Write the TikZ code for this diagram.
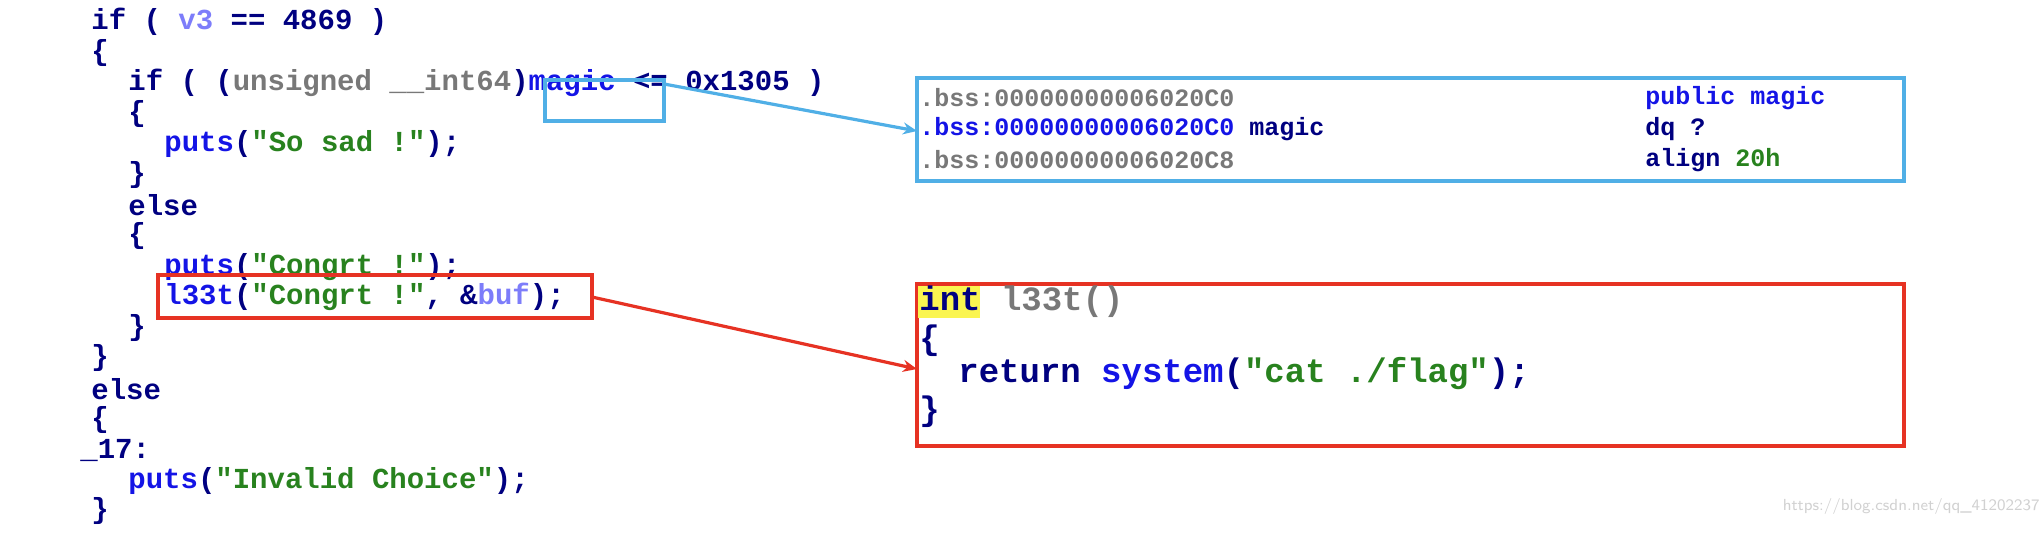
\documentclass[tikz,border=0pt]{standalone}
\usepackage{fontspec}
\usetikzlibrary{arrows.meta}
\setmonofont{Liberation Mono}
\definecolor{kw}{RGB}{0,0,128}
\definecolor{fn}{RGB}{20,20,230}
\definecolor{st}{RGB}{40,130,30}
\definecolor{vr}{RGB}{125,125,250}
\definecolor{gr}{RGB}{120,120,120}
\definecolor{bl}{RGB}{80,175,230}
\definecolor{rd}{RGB}{230,50,35}
\definecolor{hl}{RGB}{250,245,80}
\newcommand\cfn[1]{\textcolor{fn}{#1}}
\newcommand\cst[1]{\textcolor{st}{#1}}
\newcommand\cvr[1]{\textcolor{vr}{#1}}
\newcommand\cgr[1]{\textcolor{gr}{#1}}
\begin{document}
\begin{tikzpicture}[x=0.5pt,y=-0.5pt,
  code/.style={anchor=west,inner sep=0pt,font=\ttfamily\bfseries\fontsize{14.5}{14.5}\selectfont,text=kw},
  rcode/.style={anchor=west,inner sep=0pt,font=\ttfamily\bfseries\fontsize{12.5}{12.5}\selectfont,text=kw},
  fcode/.style={anchor=west,inner sep=0pt,font=\ttfamily\bfseries\fontsize{17}{17}\selectfont,text=kw},
  bbox/.style={draw=bl,line width=1.6pt},
  rbox/.style={draw=rd,line width=1.6pt},
  barrow/.style={draw=bl,line width=1.6pt,-{Stealth[length=7pt,width=6pt]}},
  rarrow/.style={draw=rd,line width=1.6pt,-{Stealth[length=7pt,width=6pt]}}]
\useasboundingbox (0,0) rectangle (2044,532);
% left code
\node[code] (l0) at (91,22) {if ( \cvr{v3} == 4869 )};
\node[code] (l1) at (91,53) {\{};
\node[code] (l2) at (128,83) {if ( (\cgr{unsigned \_\_int64})\cfn{magic} <= 0x1305 )};
\node[code] (l3) at (128,114) {\{};
\node[code] (l4) at (164,144) {\cfn{puts}(\cst{"So sad !"});};
\node[code] (l5) at (128,175) {\}};
\node[code] (l6) at (128,205) {else};
\node[code] (l7) at (128,236) {\{};
\node[code] (l8) at (164,267) {\cfn{puts}(\cst{"Congrt !"});};
\node[code] (l9) at (164,297) {\cfn{l33t}(\cst{"Congrt !"}, \&\cvr{buf});};
\node[code] (l10) at (128,328) {\}};
\node[code] (l11) at (91,358) {\}};
\node[code] (l12) at (91,389) {else};
\node[code] (l13) at (91,420) {\{};
\node[code] (l14) at (80,450) {\_17:};
\node[code] (l15) at (128,481) {\cfn{puts}(\cst{"Invalid Choice"});};
\node[code] (l16) at (91,511) {\}};
% boxes on left
\draw[bbox] (545,80) rectangle (664,121);
\coordinate (mb) at (664,84);
\draw[rbox] (158,275) rectangle (592,318);
\coordinate (lb) at (592,297);
% right blue box
\draw[bbox] (917,78) rectangle (1904,181);
\coordinate (bin) at (917,131);
\node[rcode] (b1) at (919,98) {\cgr{.bss:00000000006020C0}};
\node[rcode] (b2) at (919,129) {\cfn{.bss:00000000006020C0} magic};
\node[rcode] (b3) at (919,160) {\cgr{.bss:00000000006020C8}};
\node[rcode] (c1) at (1645,98) {\cfn{public magic}};
\node[rcode] (c2) at (1645,129) {dq ?};
\node[rcode] (c3) at (1645,160) {align \cst{20h}};
% right red box
\draw[rbox] (917,284) rectangle (1904,446);
\coordinate (rin) at (917,369);
\fill[hl] (918,286) rectangle (980,318);
\node[fcode] (f1) at (919,302) {int \cgr{l33t()}};
\node[fcode] (f2) at (919,341) {\{};
\node[fcode] (f3) at (958,374) {return \cfn{system}(\cst{"cat ./flag"});};
\node[fcode] (f4) at (919,412) {\}};
% arrows
\draw[barrow] (mb) -- (bin);
\draw[rarrow] (lb) -- (rin);
\node[anchor=east,inner sep=0pt,text=black!18,font=\sffamily\fontsize{8}{8}\selectfont] (wm) at (2040,506) {https://blog.csdn.net/qq\_41202237};
\end{tikzpicture}
\end{document}
